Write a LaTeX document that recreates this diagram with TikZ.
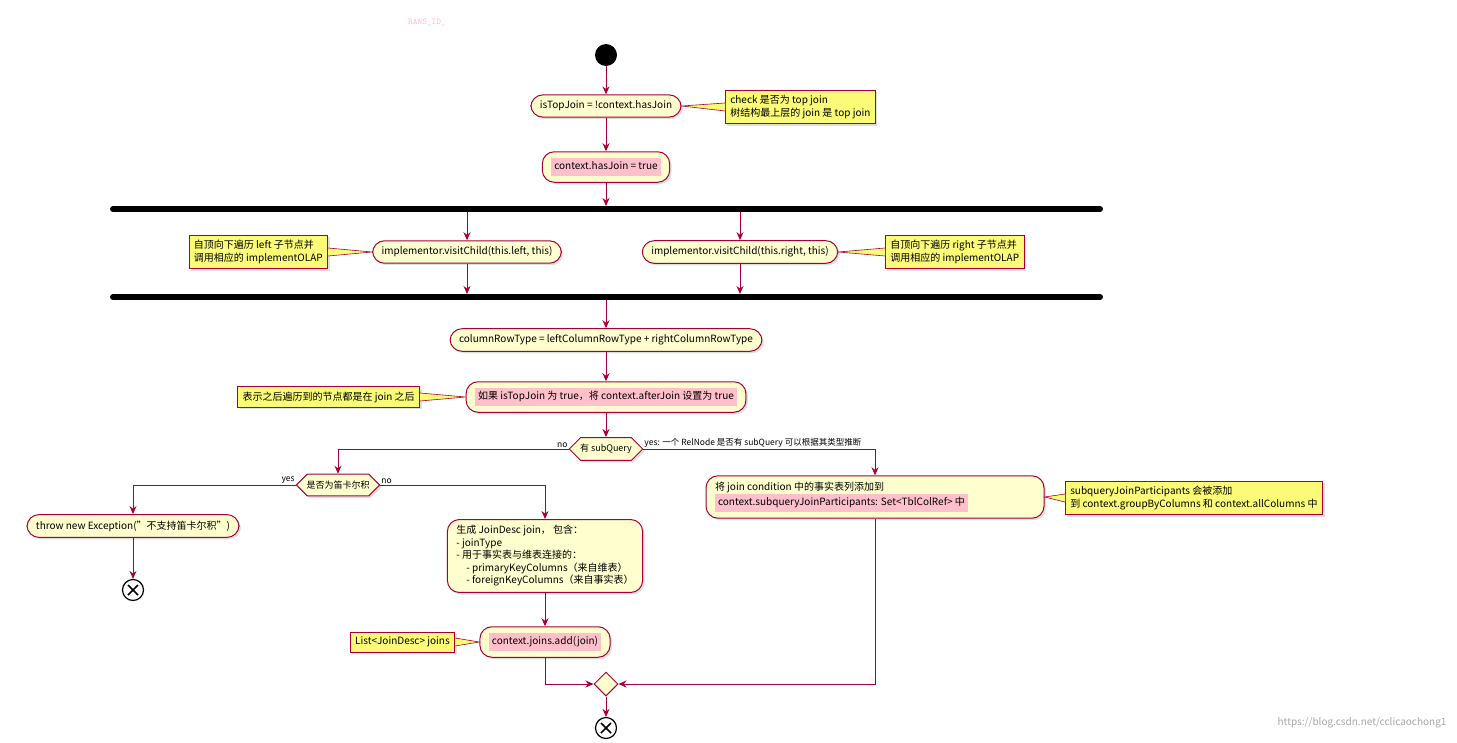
\documentclass[tikz,border=0pt]{standalone}
\usepackage{fontspec}
\setmainfont{Noto Sans CJK SC}
\usetikzlibrary{shapes.geometric,shapes.misc,shadows,arrows.meta}
\definecolor{bx}{HTML}{FEFECE}
\definecolor{ln}{HTML}{A80036}
\definecolor{nt}{HTML}{FBFB77}
\definecolor{hl}{HTML}{FFC0CB}
\newcommand{\hlt}[1]{\colorbox{hl}{\strut #1}}
\begin{document}
\begin{tikzpicture}[x=1pt,y=-1pt,
  font=\fontsize{10}{12.5}\selectfont,
  act/.style={rounded rectangle,rounded rectangle arc length=0,draw=ln,fill=bx,line width=1pt,inner xsep=9pt,inner ysep=6pt,rounded corners=12pt,rectangle,drop shadow={opacity=0.25,shadow xshift=2pt,shadow yshift=-2pt}},
  note/.style={draw=ln,fill=nt,line width=0.6pt,align=left,inner sep=5pt,drop shadow={opacity=0.25,shadow xshift=2pt,shadow yshift=-2pt}},
  dia/.style={draw=ln,fill=bx,line width=1pt,chamfered rectangle,chamfered rectangle xsep=10pt,inner sep=3pt,font=\fontsize{9}{11}\selectfont,drop shadow={opacity=0.25,shadow xshift=2pt,shadow yshift=-2pt}},
  bar/.style={line width=6pt,line cap=round},
  fl/.style={draw=ln,line width=1pt,-{Stealth[length=8pt,width=7pt]}},
  ln/.style={draw=ln,line width=1pt},
  endc/.style={circle,draw=black,fill=white,line width=1.2pt,minimum size=21pt,inner sep=0pt,path picture={\draw[line width=1.5pt] (path picture bounding box.south west)++(5.5pt,5.5pt) -- ([shift={(-5.5pt,-5.5pt)}]path picture bounding box.north east);\draw[line width=1.5pt] ([shift={(5.5pt,-5.5pt)}]path picture bounding box.north west) -- ([shift={(-5.5pt,5.5pt)}]path picture bounding box.south east);}},
  lab/.style={font=\fontsize{8.5}{10}\selectfont,inner sep=1pt}]
\useasboundingbox (0,0) rectangle (1457,742);
\fill[white] (0,0) rectangle (1457,742);
\node[text=hl,font=\ttfamily\fontsize{9}{10}\selectfont] (wm1) at (427,22) {RANS\_ID\_};
\node[text=black!35,font=\fontsize{10}{12}\selectfont,anchor=east] (wm2) at (1450,723) {https://blog.csdn.net/cclicaochong1};

\node[circle,fill=black,minimum size=22pt,inner sep=0pt] (start) at (606,55) {};
\node[act] (a1) at (606,106) {isTopJoin = !context.hasJoin};
\node[note,anchor=west] (n1) at (725,107) {check 是否为 top join\\树结构最上层的 join 是 top join};
\node[act] (a2) at (606,167) {\hlt{context.hasJoin = true}};
\coordinate (f1l) at (113,209); \coordinate (f1r) at (1100,209);
\draw[bar] (f1l) -- (f1r);
\node[act] (al) at (467,252) {implementor.visitChild(this.left, this)};
\node[act] (ar) at (740,252) {implementor.visitChild(this.right, this)};
\node[note,anchor=east] (nl) at (328,252) {自顶向下遍历 left 子节点并\\调用相应的 implementOLAP};
\node[note,anchor=west] (nr) at (885,252) {自顶向下遍历 right 子节点并\\调用相应的 implementOLAP};
\coordinate (f2l) at (113,297); \coordinate (f2r) at (1100,297);
\draw[bar] (f2l) -- (f2r);
\node[act] (a3) at (606,340) {columnRowType = leftColumnRowType + rightColumnRowType};
\node[act] (a4) at (606,397) {\hlt{如果 isTopJoin 为 true，将 context.afterJoin 设置为 true}};
\node[note,anchor=east] (n4) at (420,397) {表示之后遍历到的节点都是在 join 之后};
\node[dia] (d1) at (606,449) {有 subQuery};
\node[dia] (d2) at (338,485) {是否为笛卡尔积};
\node[act] (a5) at (875,497) {\parbox{320pt}{将 join condition 中的事实表列添加到\\\hlt{context.subqueryJoinParticipants: Set<TblColRef> 中}}};
\node[note,anchor=west] (n5) at (1065,498) {subqueryJoinParticipants 会被添加\\到 context.groupByColumns 和 context.allColumns 中};
\node[act] (a6) at (133,526) {throw new Exception("不支持笛卡尔积")};
\node[endc] (e1) at (133,590) {};
\node[act,align=left] (a7) at (545,556) {生成 JoinDesc join， 包含：\\- joinType\\- 用于事实表与维表连接的：\\\quad - primaryKeyColumns（来自维表）\\\quad - foreignKeyColumns（来自事实表）};
\node[act] (a8) at (545,642) {\hlt{context.joins.add(join)}};
\node[note,anchor=east] (n8) at (455,642) {List<JoinDesc> joins};
\node[diamond,draw=ln,fill=bx,line width=1pt,minimum width=24pt,minimum height=24pt,inner sep=0pt] (m) at (606,684) {};
\node[endc] (e2) at (606,728) {};

% note pointers
\foreach \n/\a/\s in {n1/a1/west, n5/a5/west, nr/ar/west}{
  \fill[nt] ([yshift=-4pt]\n.\s) -- (\a.east) -- ([yshift=4pt]\n.\s) -- cycle;
  \draw[ln,line width=0.6pt] ([yshift=-4pt]\n.\s) -- (\a.east) -- ([yshift=4pt]\n.\s);}
\foreach \n/\a/\s in {nl/al/east, n4/a4/east, n8/a8/east}{
  \fill[nt] ([yshift=-4pt]\n.\s) -- (\a.west) -- ([yshift=4pt]\n.\s) -- cycle;
  \draw[ln,line width=0.6pt] ([yshift=-4pt]\n.\s) -- (\a.west) -- ([yshift=4pt]\n.\s);}

\draw[fl] (start) -- (a1);
\draw[fl] (a1) -- (a2);
\draw[fl] (a2) -- (606,206);
\draw[fl] (467,212) -- (al);
\draw[fl] (740,212) -- (ar);
\draw[fl] (al) -- (467,294);
\draw[fl] (ar) -- (740,294);
\draw[fl] (606,300) -- (a3);
\draw[fl] (a3) -- (a4);
\draw[fl] (a4) -- (d1);
\draw[fl] (d1.west) -| (d2.north);
\draw[fl] (d1.east) -| (a5.north);
\node[lab,anchor=south east] (l1) at (d1.west) {no};
\node[lab,anchor=south west] (l2) at (d1.east) {yes: 一个 RelNode 是否有 subQuery 可以根据其类型推断};
\draw[fl] (d2.west) -| (a6.north);
\draw[fl] (d2.east) -| (a7.north);
\node[lab,anchor=south east] (l3) at (d2.west) {yes};
\node[lab,anchor=south west] (l4) at (d2.east) {no};
\draw[fl] (a6) -- (e1);
\draw[fl] (a7) -- (a8);
\draw[fl] (a8.south) |- (m.west);
\draw[fl] (a5.south) |- (m.east);
\draw[fl] (m) -- (e2);
\end{tikzpicture}
\end{document}
